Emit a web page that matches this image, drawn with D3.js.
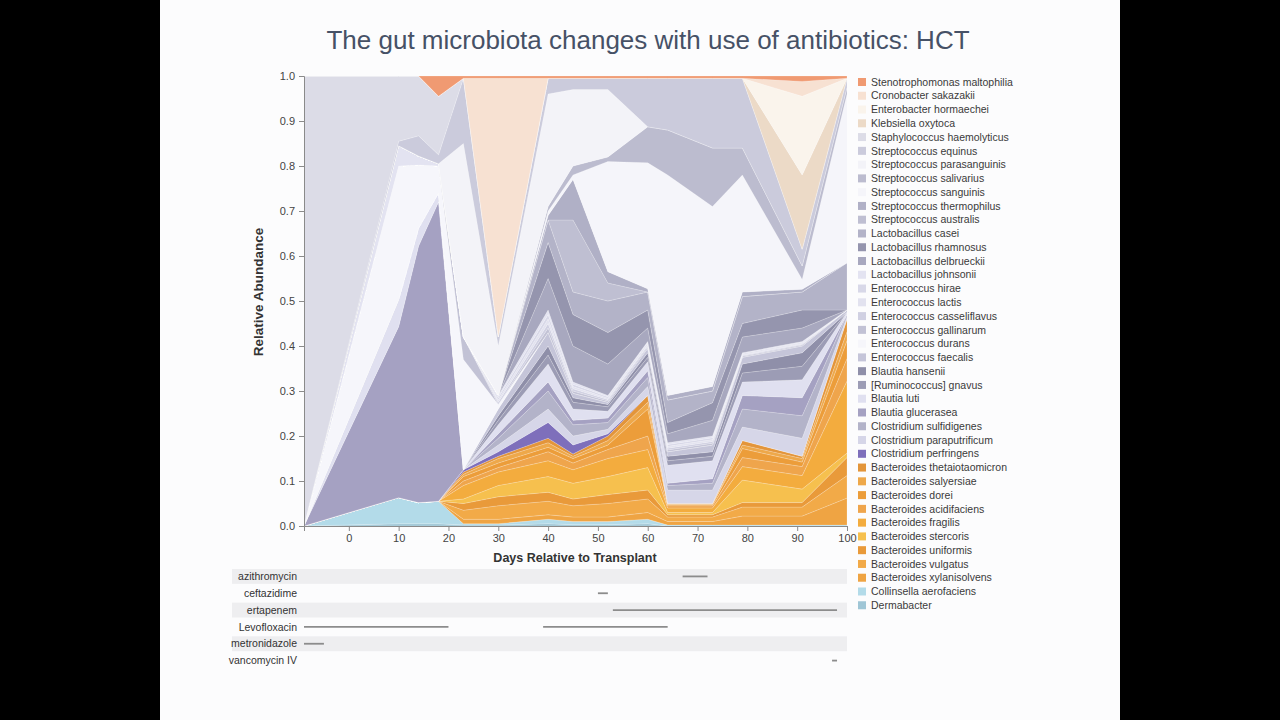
<!DOCTYPE html>
<html>
<head>
<meta charset="utf-8">
<script src="https://cdn.jsdelivr.net/npm/d3@7"></script>
<style>
  body { margin: 0; background: #000; }
  svg text { font-family: "Liberation Sans Narrow", "Arial Narrow", "Liberation Sans", Arial, sans-serif; }
</style>
</head>
<body>
<div id="chart"></div>
<script>
// sampling days (x) and relative abundance per taxon
const days = [-9, 10, 14, 18, 23, 30, 40, 45, 52, 60, 64, 73, 79, 91, 100];

const stenotrophomonas = [0, 0, 0, .045, .005, .005, .005, .005, .005, .005, .005, .005, .005, .012, .005];
const cronobacter      = [0, 0, 0, 0, 0, .575, 0, 0, 0, 0, 0, 0, 0, .033, 0];
const enterobacter     = [0, 0, 0, 0, 0, 0, 0, 0, 0, 0, 0, 0, 0, .175, 0];
const klebsiella       = [0, 0, 0, 0, 0, 0, 0, 0, 0, 0, 0, 0, 0, .165, 0];
const staphHaemo       = [1, .145, .133, .13, 0, 0, 0, 0, 0, 0, 0, 0, 0, 0, 0];
const strepEquinus     = [0, .01, .045, .02, .145, .02, .035, .025, .025, .108, .115, .155, .155, .037, .02];
const strepParasang    = [0, 0, 0, 0, .43, .11, .25, .17, .15, 0, 0, 0, 0, 0, 0];
const strepSalivarius  = [0, 0, 0, 0, 0, 0, .01, .02, .01, .08, .10, .13, .06, .03, .015];
const strepSanguinis   = [0, 0, 0, 0, 0, 0, .01, .01, .245, .28, .49, .40, .26, .022, .375];
const strepThermo      = [0, 0, 0, 0, 0, 0, .01, .09, .025, .007, .01, .01, .01, .006, 0];
const strepAustralis   = [0, 0, 0, 0, 0, 0, 0, .16, .04, 0, 0, 0, 0, 0, 0];
const lactoCasei       = [0, 0, 0, 0, 0, 0, .05, .05, .07, .04, .05, .026, .06, .04, .105];
const lactoRhamnosus   = [0, 0, 0, 0, 0, 0, .08, .07, .07, .04, .025, .039, .03, .04, 0];
const lactoDelbrueckii = [0, 0, 0, 0, 0, 0, .07, .08, .07, .03, .02, .035, .035, .03, 0];
const lactoJohnsonii   = [0, .045, .02, .005, 0, .005, .01, .005, .003, .003, .004, .004, .002, .002, 0];
const entHirae         = [0, 0, 0, 0, 0, .005, .01, .005, .003, .003, .004, .004, .002, .002, 0];
const entLactis        = [0, 0, 0, 0, 0, .005, .01, .005, .003, .003, .004, .004, .002, .002, 0];
const entCasseliflavus = [0, 0, 0, 0, 0, .005, .01, .005, .003, .003, .004, .004, .002, .002, 0];
const entGallinarum    = [0, 0, 0, 0, .05, 0, .01, .005, .003, .003, .004, .004, .002, .002, 0];
const entDurans        = [0, .297, .14, .06, .245, .01, 0, 0, 0, 0, 0, 0, 0, 0, 0];
const entFaecalis      = [0, 0, 0, 0, 0, .015, .03, .01, .005, .01, .01, .015, .015, .015, .005];
const blautiaHansenii  = [0, 0, 0, 0, 0, .01, .02, .01, .005, .01, .01, .01, .02, .03, 0];
const rumGnavus        = [0, 0, 0, 0, 0, .01, .02, .015, .01, .01, .01, .01, .02, .03, 0];
const blautiaLuti      = [0, .06, .04, .02, 0, .02, .04, .025, .015, .02, .04, .04, .03, .04, .005];
const blautiaGlucer    = [0, .38, .57, .665, 0, .01, .02, .01, .01, .015, .005, .01, .03, .04, 0];
const clostSulfid      = [0, 0, 0, 0, 0, .015, .04, .025, .015, .02, .01, .015, .04, .05, .005];
const clostParaput     = [0, 0, 0, 0, 0, .015, .03, .02, .01, .02, .03, .03, .03, .04, .005];
const clostPerfringens = [0, 0, 0, 0, .005, .01, .035, .02, .005, 0, 0, 0, 0, 0, 0];
const bactTheta        = [0, 0, 0, 0, .005, .005, .01, .005, .01, .015, .001, .001, .01, .005, .028];
const bactSalyersiae   = [0, 0, 0, 0, .005, .01, .01, .005, .01, .015, .001, .001, .008, .008, .02];
const bactDorei        = [0, 0, 0, 0, .01, .01, .01, .01, .01, .06, .003, .003, .02, .01, .04];
const bactAcidifaciens = [0, 0, 0, 0, .01, .01, .02, .015, .02, .03, .005, .005, .02, .02, .05];
const bactFragilis     = [0, 0, 0, 0, .03, .03, .035, .03, .04, .04, .01, .01, .03, .03, .16];
const bactStercoris    = [0, 0, 0, 0, .01, .025, .035, .035, .04, .05, .005, .005, .05, .03, .01];
const bactUniformis    = [0, 0, 0, 0, .015, .02, .02, .015, .02, .02, .005, .005, .01, .01, .04];
const bactVulgatus     = [0, 0, 0, 0, .02, .03, .03, .025, .03, .03, .01, .01, .02, .02, .05];
const bactXylan        = [0, 0, 0, 0, .01, .01, .01, .01, .01, .015, .008, .008, .02, .02, .06];
const collinsella      = [0, .058, .047, .05, .003, .003, .01, .007, .007, .01, .002, .002, .002, .002, .002];
const dermabacter      = [0, .005, .005, .005, .002, .002, .005, .003, .003, .005, 0, 0, 0, 0, 0];

// legend order (top of the stack first)
const taxa = [
  "Stenotrophomonas maltophilia", "Cronobacter sakazakii", "Enterobacter hormaechei", "Klebsiella oxytoca",
  "Staphylococcus haemolyticus", "Streptococcus equinus", "Streptococcus parasanguinis", "Streptococcus salivarius",
  "Streptococcus sanguinis", "Streptococcus thermophilus", "Streptococcus australis", "Lactobacillus casei",
  "Lactobacillus rhamnosus", "Lactobacillus delbrueckii", "Lactobacillus johnsonii", "Enterococcus hirae",
  "Enterococcus lactis", "Enterococcus casseliflavus", "Enterococcus gallinarum", "Enterococcus durans",
  "Enterococcus faecalis", "Blautia hansenii", "[Ruminococcus] gnavus", "Blautia luti", "Blautia glucerasea",
  "Clostridium sulfidigenes", "Clostridium paraputrificum", "Clostridium perfringens",
  "Bacteroides thetaiotaomicron", "Bacteroides salyersiae", "Bacteroides dorei", "Bacteroides acidifaciens",
  "Bacteroides fragilis", "Bacteroides stercoris", "Bacteroides uniformis", "Bacteroides vulgatus",
  "Bacteroides xylanisolvens", "Collinsella aerofaciens", "Dermabacter"
];
const taxonValues = [
  stenotrophomonas, cronobacter, enterobacter, klebsiella, staphHaemo, strepEquinus, strepParasang,
  strepSalivarius, strepSanguinis, strepThermo, strepAustralis, lactoCasei, lactoRhamnosus, lactoDelbrueckii,
  lactoJohnsonii, entHirae, entLactis, entCasseliflavus, entGallinarum, entDurans, entFaecalis,
  blautiaHansenii, rumGnavus, blautiaLuti, blautiaGlucer, clostSulfid, clostParaput, clostPerfringens,
  bactTheta, bactSalyersiae, bactDorei, bactAcidifaciens, bactFragilis, bactStercoris, bactUniformis,
  bactVulgatus, bactXylan, collinsella, dermabacter
];
const taxonColors = [
  "#f09a72", "#f7e1d2", "#faf4ec", "#ecdac7", "#dcdce7", "#cbcbdc", "#f3f3f8", "#bcbccf",
  "#f5f5fa", "#b0b0c6", "#bfbfd2", "#b3b3c8", "#9595ae", "#a8a8bf", "#e3e3f1", "#d8d8e8",
  "#e2e2ef", "#d0d0e2", "#c2c2d5", "#f6f6fb", "#c5c5d9", "#8f8fa9", "#9c9cb5", "#e0e0f0",
  "#a5a1c2", "#b3b3c9", "#d6d6e8", "#7e6fbb",
  "#e3953a", "#eea84a", "#ec9d3a", "#efa54c", "#f3ac3e", "#f6c04e", "#e99a3a", "#f2aa48",
  "#efa443", "#b3dbe9", "#9fc6d6"
];

// antibiotic courses (days)
const antibiotics = ["azithromycin", "ceftazidime", "ertapenem", "Levofloxacin", "metronidazole", "vancomycin IV"];
const courseDrug  = ["azithromycin", "ceftazidime", "ertapenem", "Levofloxacin", "Levofloxacin", "metronidazole", "vancomycin IV"];
const courseStart = [67, 50, 53, -9, 39, -9, 97];
const courseEnd   = [72, 52, 98, 20, 64, -5, 98];

class AbundanceChart {
  constructor(_config) {
    this.config = {
      parentElement: _config.parentElement,
      containerWidth: 1280,
      containerHeight: 720,
      plot: {left: 304, right: 847, top: 76, bottom: 526}
    };
    this.initVis();
    this.renderVis();
  }

  initVis() {
    let vis = this;
    const p = vis.config.plot;

    vis.svg = d3.select(vis.config.parentElement)
      .append("svg")
      .attr("width", vis.config.containerWidth)
      .attr("height", vis.config.containerHeight);

    // slide
    vis.svg.append("rect")
      .attr("x", 160).attr("y", 0)
      .attr("width", 960).attr("height", 720)
      .attr("fill", "#fcfcfd");

    vis.svg.append("text")
      .attr("x", 648).attr("y", 49)
      .attr("text-anchor", "middle")
      .style("font-family", "'Liberation Sans', Arial, sans-serif")
      .attr("font-size", 26)
      .attr("fill", "#465166")
      .text("The gut microbiota changes with use of antibiotics: HCT");

    vis.xScale = d3.scaleLinear().domain([-9, 100]).range([p.left, p.right]);
    vis.yScale = d3.scaleLinear().domain([0, 1]).range([p.bottom, p.top]);

    vis.xAxis = d3.axisBottom(vis.xScale).tickValues(d3.range(0, 101, 10)).tickSize(5).tickPadding(3);
    vis.yAxis = d3.axisLeft(vis.yScale).tickValues(d3.range(0, 1.01, 0.1))
      .tickFormat(d3.format(".1f")).tickSize(5).tickPadding(4);

    vis.areaGroup = vis.svg.append("g");
    vis.xAxisGroup = vis.svg.append("g")
      .attr("class", "axis x-axis")
      .attr("transform", `translate(0,${p.bottom})`);
    vis.yAxisGroup = vis.svg.append("g")
      .attr("class", "axis y-axis")
      .attr("transform", `translate(${p.left},0)`);

    vis.svg.append("text")
      .attr("x", 575).attr("y", 562)
      .attr("text-anchor", "middle")
      .style("font-family", "'Liberation Sans', Arial, sans-serif")
      .attr("font-weight", "bold")
      .attr("font-size", 12.5)
      .attr("fill", "#333")
      .text("Days Relative to Transplant");

    vis.svg.append("text")
      .attr("transform", "translate(263,292) rotate(-90)")
      .attr("text-anchor", "middle")
      .style("font-family", "'Liberation Sans', Arial, sans-serif")
      .attr("font-weight", "bold")
      .attr("font-size", 13.5)
      .attr("fill", "#333")
      .text("Relative Abundance");
  }

  renderVis() {
    let vis = this;

    const rows = days.map((d, i) => {
      const row = {day: d};
      taxa.forEach((t, j) => { row[t] = taxonValues[j][i]; });
      return row;
    });
    const colorScale = d3.scaleOrdinal().domain(taxa).range(taxonColors);

    // bottom of the stack is the last legend entry
    const series = d3.stack().keys(taxa.slice().reverse())(rows);

    const area = d3.area()
      .x(d => vis.xScale(d.data.day))
      .y0(d => vis.yScale(d[0]))
      .y1(d => vis.yScale(d[1]));

    vis.areaGroup.selectAll("path")
      .data(series)
      .join("path")
        .attr("d", area)
        .attr("fill", d => colorScale(d.key))
        .attr("stroke", "rgba(255,255,255,0.3)")
        .attr("stroke-width", 0.6);

    vis.xAxisGroup.call(vis.xAxis);
    vis.yAxisGroup.call(vis.yAxis);
    vis.svg.selectAll(".axis path, .axis line").attr("stroke", "#8a8a8a");
    vis.svg.selectAll(".axis text").attr("font-size", 11).attr("fill", "#444");

    // legend
    const legend = vis.svg.append("g")
      .selectAll("g")
      .data(taxa)
      .join("g")
        .attr("transform", (d, i) => `translate(858,${82 + i * 13.77})`);
    legend.append("rect")
      .attr("x", 0).attr("y", -4)
      .attr("width", 8).attr("height", 8)
      .attr("fill", d => colorScale(d));
    legend.append("text")
      .attr("x", 13).attr("dy", "0.35em")
      .attr("font-size", 10.5)
      .attr("fill", "#3a3a3a")
      .text(d => d);

    // antibiotic exposure panel
    const rowScale = d3.scaleBand().domain(antibiotics).range([568, 669]);
    const panel = vis.svg.append("g");
    panel.selectAll("rect")
      .data(antibiotics.filter((d, i) => i % 2 === 0))
      .join("rect")
        .attr("x", 232).attr("width", vis.config.plot.right - 232)
        .attr("y", d => rowScale(d) + 1)
        .attr("height", rowScale.bandwidth() - 2)
        .attr("fill", "#eeeef0");
    panel.selectAll("text")
      .data(antibiotics)
      .join("text")
        .attr("x", 297)
        .attr("y", d => rowScale(d) + rowScale.bandwidth() / 2)
        .attr("dy", "0.35em")
        .attr("text-anchor", "end")
        .attr("font-size", 10.5)
        .attr("fill", "#333")
        .text(d => d);
    panel.selectAll("line")
      .data(courseDrug)
      .join("line")
        .attr("x1", (d, i) => vis.xScale(courseStart[i]))
        .attr("x2", (d, i) => vis.xScale(courseEnd[i]))
        .attr("y1", d => rowScale(d) + rowScale.bandwidth() / 2)
        .attr("y2", d => rowScale(d) + rowScale.bandwidth() / 2)
        .attr("stroke", "#8c8c8c")
        .attr("stroke-width", 1.8);
  }
}

new AbundanceChart({parentElement: "#chart"});
</script>
</body>
</html>
